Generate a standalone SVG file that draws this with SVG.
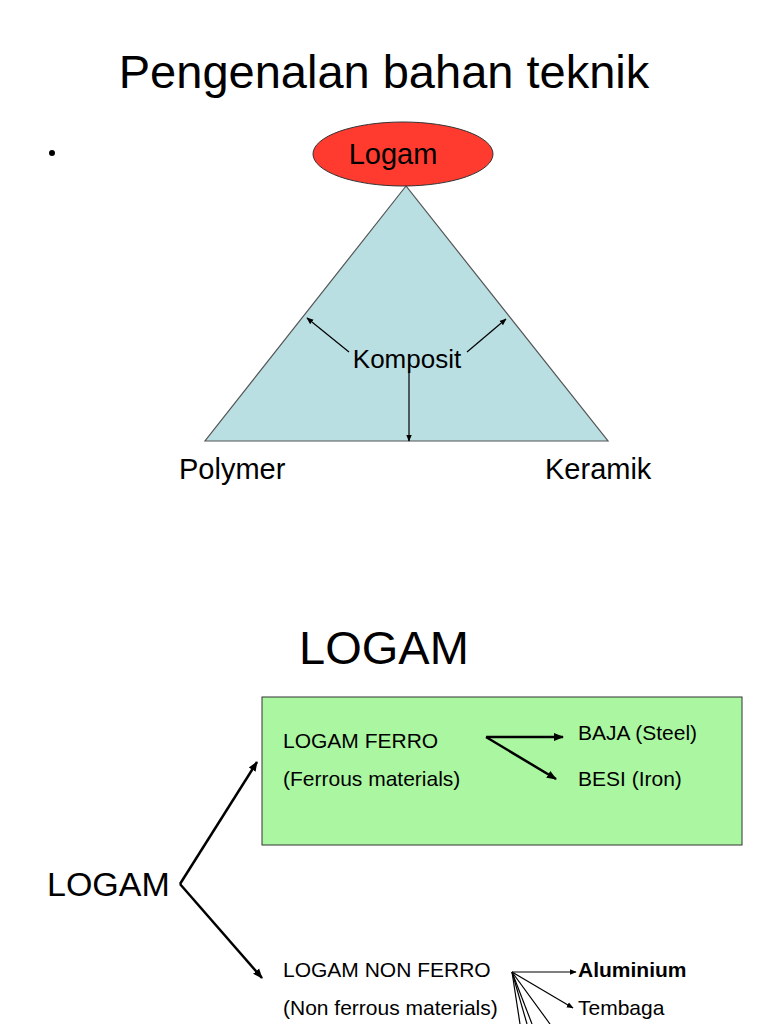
<svg xmlns="http://www.w3.org/2000/svg" width="768" height="1024" viewBox="0 0 768 1024">
<defs>
<style>
text{font-family:"Liberation Sans",Arial,sans-serif;fill:#000}
.thin{stroke:#000;stroke-width:1.2;fill:none}
.thick{stroke:#000;stroke-width:2.5;fill:none}
.sm{font-size:21px}
</style>
<marker id="ah" viewBox="0 0 10 10" refX="9" refY="5" markerWidth="7" markerHeight="7" markerUnits="userSpaceOnUse" orient="auto"><path d="M0,1 L10,5 L0,9 z" fill="#000"/></marker>
<marker id="ahb" viewBox="0 0 10 10" refX="9" refY="5" markerWidth="10" markerHeight="10" markerUnits="userSpaceOnUse" orient="auto"><path d="M0,1 L10,5 L0,9 z" fill="#000"/></marker>
</defs>
<rect width="768" height="1024" fill="#fff"/>
<text x="384" y="88" font-size="47" text-anchor="middle">Pengenalan bahan teknik</text>
<circle cx="52" cy="153" r="3" fill="#000"/>
<g id="triangle"><polygon points="406,186 205,441 608,441" fill="#b9dfe2" stroke="#555" stroke-width="1.2"/></g>
<g id="logam-node"><ellipse cx="403" cy="154" rx="90" ry="32" fill="#ff3b30" stroke="#333" stroke-width="1"/><text x="393" y="164" font-size="29" text-anchor="middle">Logam</text></g>
<g id="komposit"><text x="407" y="368" font-size="26" text-anchor="middle">Komposit</text></g>
<g id="polymer"><text x="179" y="479" font-size="29">Polymer</text></g>
<g id="keramik"><text x="545" y="479" font-size="29">Keramik</text></g>
<g id="tri-connectors">
<line class="thin" x1="349" y1="352" x2="307" y2="318" marker-end="url(#ah)"/>
<line class="thin" x1="467" y1="352" x2="506" y2="319" marker-end="url(#ah)"/>
<line class="thin" x1="409" y1="372" x2="409" y2="441" marker-end="url(#ah)"/>
</g>
<text x="384" y="664" font-size="47" text-anchor="middle">LOGAM</text>
<g id="ferro"><rect x="262" y="697" width="480" height="148" fill="#abf7a1" stroke="#333" stroke-width="1"/>
<text class="sm" x="283" y="748">LOGAM FERRO</text>
<text class="sm" x="283" y="786">(Ferrous materials)</text></g>
<g id="baja"><text class="sm" x="578" y="740">BAJA (Steel)</text></g>
<g id="besi"><text class="sm" x="578" y="786">BESI (Iron)</text></g>
<g id="logam-root"><text x="47" y="896" font-size="34">LOGAM</text></g>
<g id="nonferro"><text class="sm" x="283" y="977">LOGAM NON FERRO</text>
<text class="sm" x="283" y="1015">(Non ferrous materials)</text></g>
<g id="aluminium"><text class="sm" x="578" y="977" font-weight="bold">Aluminium</text></g>
<g id="tembaga"><text class="sm" x="578" y="1015">Tembaga</text></g>
<g id="connectors">
<line class="thick" x1="486" y1="737" x2="563" y2="737" marker-end="url(#ahb)"/>
<line class="thick" x1="486" y1="737" x2="556" y2="779" marker-end="url(#ahb)"/>
<line class="thick" x1="180" y1="884" x2="257" y2="762" marker-end="url(#ahb)"/>
<line class="thick" x1="180" y1="884" x2="262" y2="978" stroke-width="2" marker-end="url(#ahb)"/>
<line class="thin" x1="512" y1="972" x2="576" y2="972" marker-end="url(#ah)"/>
<line class="thin" x1="512" y1="972" x2="573" y2="1008" marker-end="url(#ah)"/>
<line class="thin" x1="512" y1="972" x2="520" y2="1024"/>
<line class="thin" x1="512" y1="972" x2="527" y2="1024"/>
<line class="thin" x1="512" y1="972" x2="532" y2="1024"/>
<line class="thin" x1="512" y1="972" x2="550" y2="1024"/>
</g>
</svg>
